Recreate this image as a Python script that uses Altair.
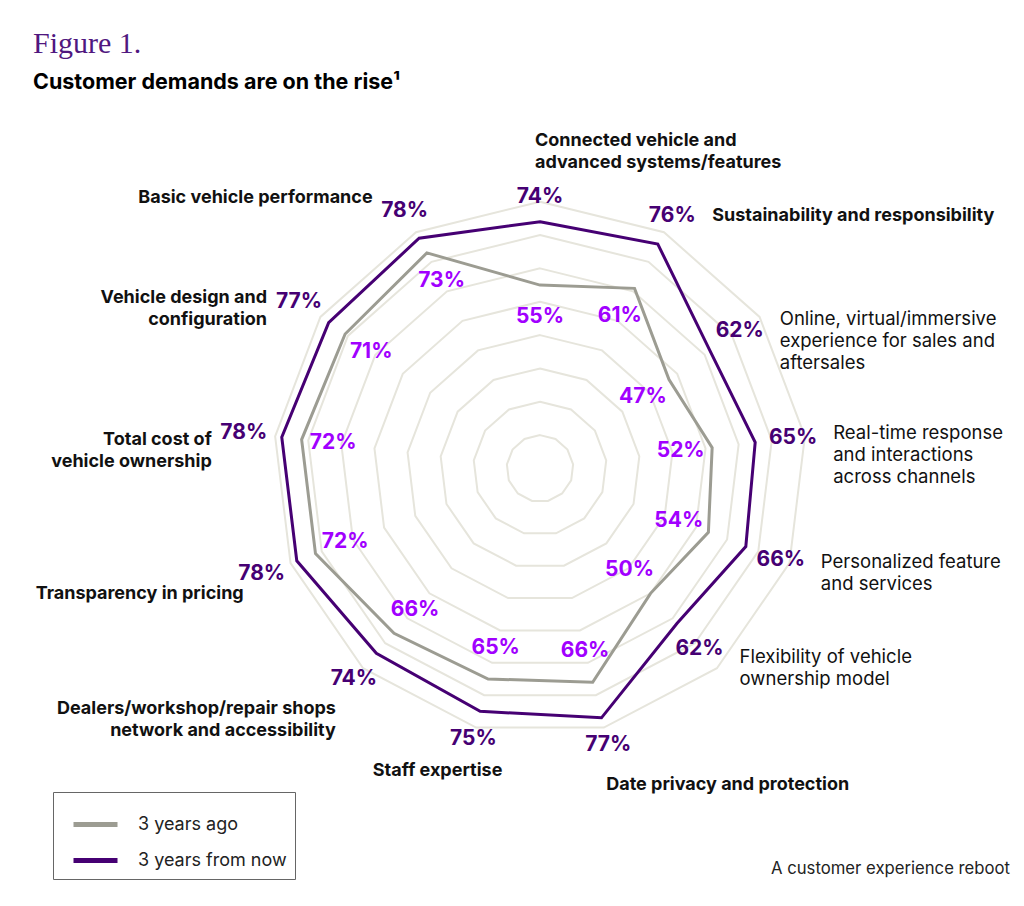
import json

import altair as alt
import pandas as pd

# ---- data -------------------------------------------------------------
categories = [
    "Connected vehicle and\nadvanced systems/features",
    "Sustainability and responsibility",
    "Online, virtual/immersive\nexperience for sales and\naftersales",
    "Real-time response\nand interactions\nacross channels",
    "Personalized feature\nand services",
    "Flexibility of vehicle\nownership model",
    "Date privacy and protection",
    "Staff expertise",
    "Dealers/workshop/repair shops\nnetwork and accessibility",
    "Transparency in pricing",
    "Total cost of\nvehicle ownership",
    "Vehicle design and\nconfiguration",
    "Basic vehicle performance",
]
ago = [55, 61, 47, 52, 54, 50, 66, 65, 66, 72, 72, 71, 73]
now = [74, 76, 62, 65, 66, 62, 77, 75, 74, 78, 78, 77, 78]
series_names = ["3 years ago", "3 years from now"]
ring_levels = [10, 20, 30, 40, 50, 60, 70, 80]

title_text = "Figure 1."
subtitle_text = "Customer demands are on the rise\u00b9"
source_text = "A customer experience reboot"

# labels that are set in regular rather than bold weight
regular_weight = [categories[i] for i in (2, 3, 4, 5)]

# ---- layout / style ---------------------------------------------------
W, H = 1024, 906
CX, CY = 540, 468.5          # pixel position of the radar centre
K = 3.335                    # pixels per percentage point
N = len(categories)

FONT = "Inter"
PURPLE = "#460073"
BRIGHT = "#a100ff"
GREY = "#9c9c92"
GRID = "#e6e5dc"

x_scale = alt.Scale(domain=[-CX / K, (W - CX) / K], nice=False, zero=False)
y_scale = alt.Scale(domain=[-(H - CY) / K, CY / K], nice=False, zero=False)


def X(field="x"):
    return alt.X(f"{field}:Q", scale=x_scale, axis=None)


def Y(field="y"):
    return alt.Y(f"{field}:Q", scale=y_scale, axis=None)


def polar(chart, r_expr):
    """Place each row on its spoke: angle from the category index, radius from r_expr."""
    return (
        chart.transform_calculate(theta=f"datum.idx * 2 * PI / {N}")
        .transform_calculate(s="sin(datum.theta)")
        .transform_calculate(c="cos(datum.theta)")
        .transform_calculate(r=r_expr)
        .transform_calculate(x="datum.r * datum.s")
        .transform_calculate(y="datum.r * datum.c")
    )


# ---- tables -----------------------------------------------------------
cat_df = pd.DataFrame({"idx": range(N), "category": categories, "ago": ago, "now": now})

series_df = pd.concat(
    [
        pd.DataFrame({"series": series_names[0], "idx": range(N), "value": ago}),
        pd.DataFrame({"series": series_names[1], "idx": range(N), "value": now}),
    ],
    ignore_index=True,
)

grid_df = pd.DataFrame(
    [(lvl, i) for lvl in ring_levels for i in range(N)], columns=["level", "idx"]
)

# ---- grid rings -------------------------------------------------------
grid = (
    polar(alt.Chart(grid_df), "datum.level")
    .mark_line(interpolate="linear-closed", stroke=GRID, strokeWidth=2)
    .encode(x=X(), y=Y(), detail="level:N", order="idx:Q")
)

# ---- series polygons --------------------------------------------------
lines = (
    polar(alt.Chart(series_df), "datum.value")
    .mark_line(interpolate="linear-closed", strokeWidth=3, strokeJoin="miter")
    .encode(
        x=X(),
        y=Y(),
        order="idx:Q",
        color=alt.Color(
            "series:N",
            scale=alt.Scale(domain=series_names, range=[GREY, PURPLE]),
            legend=alt.Legend(
                title=None,
                orient="none",
                legendX=53,
                legendY=792,
                direction="vertical",
                symbolType="stroke",
                symbolSize=1936,
                symbolStrokeWidth=5,
                symbolOffset=10,
                labelFont=FONT,
                labelFontSize=18,
                labelColor="#222222",
                labelOffset=18,
                rowPadding=1,
                padding=8,
                strokeColor="#666666",
                fillColor="#ffffff",
            ),
        ),
    )
)

# ---- value labels -----------------------------------------------------
now_labels = (
    polar(alt.Chart(cat_df), "datum.now + 7.5 + 4 * abs(datum.s)")
    .transform_calculate(label="datum.now + '%'")
    .mark_text(font=FONT, fontSize=21, fontWeight="bold", color=PURPLE, baseline="middle")
    .encode(x=X(), y=Y(), text="label:N")
)

ago_labels = (
    polar(alt.Chart(cat_df), "datum.ago - 9.5")
    .transform_calculate(label="datum.ago + '%'")
    .mark_text(font=FONT, fontSize=21, fontWeight="bold", color=BRIGHT, baseline="middle")
    .encode(x=X(), y=Y(), text="label:N")
)

# ---- category labels --------------------------------------------------
# anchored beside the outer value label; side labels are nudged along the rim
cat_base = (
    polar(alt.Chart(cat_df), "datum.now + 7.5 + 4 * abs(datum.s)")
    .transform_calculate(plain=f"indexof({json.dumps(regular_weight)}, datum.category) >= 0")
    .transform_calculate(
        lx=f"datum.s < -0.4 && datum.c < 0 ? datum.x + 14 / {K} : datum.x"
    )
    .transform_calculate(
        ly=(
            f"datum.s > 0.4 ? datum.y - (datum.c > 0.8 ? 0 : -3 - 15 * datum.c) / {K} : "
            f"datum.s < -0.4 ? datum.y - (10.7 - 26.4 * datum.c) / {K} : datum.y"
        )
    )
)


def cat_layer(cond, align, dx, dy, weight, size):
    return (
        cat_base.transform_filter(cond)
        .mark_text(
            font=FONT,
            fontSize=size,
            fontWeight=weight,
            color="#111111",
            align=align,
            baseline="middle",
            lineBreak="\n",
            lineHeight=22,
            dx=dx,
            dy=dy,
        )
        .encode(x=X("lx"), y=Y("ly"), text="category:N")
    )


cat_labels = [
    cat_layer("datum.s > 0.4 && datum.plain", "left", 40, 0, "normal", 18.5),
    cat_layer("datum.s > 0.4 && !datum.plain", "left", 40, 0, "bold", 18),
    cat_layer("datum.s < -0.4", "right", -32, 0, "bold", 18),
    cat_layer("datum.c > 0.95", "left", -5, -56, "bold", 18),
    cat_layer("datum.c < -0.9 && datum.s > 0", "left", -2, 40, "bold", 18),
    cat_layer("datum.c < -0.9 && datum.s < 0", "right", 29, 32, "bold", 18),
]

# ---- headings and source line ----------------------------------------
title = (
    alt.Chart(pd.DataFrame({"t": [title_text]}))
    .mark_text(font="Liberation Serif", fontSize=30, color="#50177f", align="left", baseline="alphabetic")
    .encode(x=alt.value(33), y=alt.value(53), text="t:N")
)
subtitle = (
    alt.Chart(pd.DataFrame({"t": [subtitle_text]}))
    .mark_text(font=FONT, fontSize=21.5, fontWeight="bold", color="#000000", align="left", baseline="alphabetic")
    .encode(x=alt.value(33), y=alt.value(89), text="t:N")
)
source = (
    alt.Chart(pd.DataFrame({"t": [source_text]}))
    .mark_text(font=FONT, fontSize=16.7, color="#222222", align="right", baseline="alphabetic")
    .encode(x=alt.value(1010), y=alt.value(874), text="t:N")
)

chart = (
    alt.layer(grid, lines, now_labels, ago_labels, *cat_labels, title, subtitle, source)
    .properties(width=W, height=H, padding=0, autosize=alt.AutoSizeParams(type="none"))
    .configure_view(strokeOpacity=0)
)

chart.save("out.html", embed_options={"renderer": "svg", "actions": False})
